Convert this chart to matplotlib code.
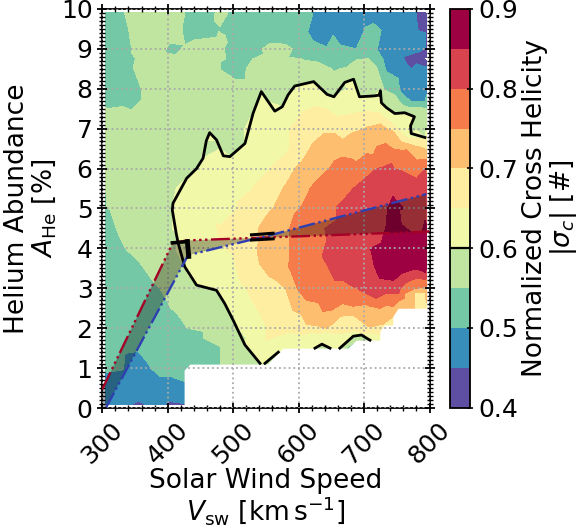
import matplotlib

matplotlib.use("Agg")
import matplotlib.pyplot as plt
import matplotlib.tri as mtri
import numpy as np
from matplotlib.ticker import MultipleLocator

speed = [305, 330, 355, 380, 405, 430, 455, 480, 505, 530, 555, 580, 605, 630, 655, 680, 705, 730, 755, 780, 795]
abundance = [9.9, 9.5, 9.0, 8.75, 8.5, 8.0, 7.5, 7.0, 6.5, 6.0, 5.5, 5.0, 4.5, 4.0, 3.5, 3.0, 2.5, 2.0, 1.75, 1.5, 1.0, 0.5, 0.1]

# median cross helicity per bin, rows follow abundance
sigma_c = [
    [.53, .545, .565, .57, .57, .54, .54, .56, .54, .535, .52, .515, .515, .49, .47, .47, .47, .47, .47, .45, .43],
    [.52, .54, .565, .552, .57, .54, .535, .548, .54, .53, .52, .515, .505, .48, .48, .47, .505, .495, .47, .452, .44],
    [.52, .535, .56, .565, .548, .56, .565, .553, .54, .535, .56, .56, .535, .51, .51, .502, .52, .48, .47, .455, .445],
    [.525, .535, .553, .565, .552, .565, .565, .555, .54, .55, .555, .553, .55, .545, .53, .545, .552, .497, .47, .44, .39],
    [.535, .535, .553, .57, .565, .565, .56, .55, .535, .56, .565, .565, .565, .56, .548, .555, .565, .505, .485, .46, .47],
    [.53, .535, .548, .575, .58, .58, .58, .575, .555, .57, .58, .585, .605, .607, .58, .607, .58, .548, .495, .48, .48],
    [.552, .552, .557, .58, .585, .59, .59, .595, .595, .597, .61, .606, .645, .655, .645, .635, .645, .605, .58, .565, .55],
    [.57, .575, .58, .585, .585, .59, .595, .597, .59, .61, .615, .625, .66, .685, .69, .69, .705, .71, .635, .59, .585],
    [.56, .58, .585, .585, .585, .59, .598, .60, .595, .615, .625, .64, .68, .72, .735, .73, .74, .755, .745, .715, .695],
    [.55, .575, .585, .59, .59, .595, .605, .62, .625, .63, .65, .68, .715, .735, .76, .77, .78, .805, .797, .775, .795],
    [.55, .57, .585, .59, .593, .615, .62, .63, .64, .65, .675, .705, .735, .765, .785, .797, .82, .84, .83, .82, .81],
    [.545, .56, .58, .59, .598, .615, .625, .635, .648, .665, .695, .715, .75, .775, .797, .82, .835, .845, .855, .835, .835],
    [.53, .56, .58, .59, .598, .62, .63, .652, .67, .69, .72, .745, .765, .79, .815, .83, .84, .845, .86, .84, .855],
    [.51, .545, .565, .585, .595, .615, .63, .645, .665, .69, .725, .745, .765, .795, .82, .835, .845, .87, .885, .885, .885],
    [.51, .525, .54, .565, .585, .605, .625, .635, .65, .675, .71, .74, .76, .78, .815, .83, .845, .87, .875, .855, .855],
    [.51, .515, .525, .545, .565, .585, .598, .61, .635, .66, .685, .70, .755, .775, .79, .795, .81, .825, .802, .75, .745],
    [.505, .51, .515, .53, .55, .565, .58, .597, .615, .645, .665, .685, .71, .74, .75, .745, .735, .745, .72, .685, .685],
    [.505, .505, .51, .52, .535, .55, .555, .58, .597, .62, .655, .665, .68, .695, .68, .68, .695, .695, .69, .68, .68],
    [.505, .505, .505, .515, .53, .545, .55, .565, .585, .61, .652, .635, .63, .615, .625, .595, .60, .63, .65, .65, .65],
    [.52, .515, .502, .515, .525, .54, .545, .55, .57, .61, .62, .605, .605, .598, .603, .52, .55, .6, .6, .6, .6],
    [.505, .502, .485, .505, .515, .53, .54, .55, .565, .57, .57, .58, .58, .58, .58, .5, .5, .55, .55, .55, .55],
    [.485, .48, .47, .475, .48, .485, .5, .5, .5, .5, .5, .5, .5, .5, .5, .5, .5, .5, .5, .5, .5],
    [.47, .46, .445, .46, .445, .45, .5, .5, .5, .5, .5, .5, .5, .5, .5, .5, .5, .5, .5, .5, .5],
]

# iso-lines as (speed, abundance) samples, one list per sigma_c value
iso_45 = [
    [(780, 9.9), (782, 9.47), (794, 9.4)],
    [(794, 9.05), (782, 8.9), (760, 8.8), (766, 8.6), (773, 8.5), (794, 8.55)],
]
iso_50 = [
    [(622, 9.9), (614, 9.43), (622, 9.2), (643, 9.05), (653, 9.35), (663, 9.1), (688, 9.0), (706, 9.5), (714, 9.64),
     (726, 9.47), (720, 8.97), (734, 8.43), (752, 8.26), (757, 7.89), (772, 7.68), (794, 7.68)],
    [(570, 9.9), (574, 9.77), (578, 9.9)],
    [(305, 0.88), (332, 0.96), (335, 1.37), (342, 1.57), (355, 1.42), (370, 1.12), (388, 0.8), (425, 0.67)],
]
iso_55 = [
    [(334, 9.9), (347, 8.55), (360, 7.97), (360, 7.72), (345, 7.47), (324, 7.54), (307, 7.5)],
    [(385, 9.7), (395, 9.64), (403, 9.14), (412, 8.85), (405, 8.68), (395, 8.93), (380, 9.4)],
    [(426, 9.9), (426, 9.1), (442, 9.24), (475, 9.3), (478, 9.43), (472, 9.7), (472, 9.9)],
    [(492, 9.9), (487, 9.35), (491, 9.18), (481, 8.68), (481, 8.47), (505, 8.22), (518, 8.24), (533, 8.76), (546, 8.87),
     (607, 8.72), (655, 8.43), (688, 8.72), (703.6, 8.76), (719, 8.55), (729, 8.05), (747, 7.84), (754, 7.68), (794, 7.5)],
    [(307, 5.0), (312, 4.96), (322, 4.46), (337, 3.96), (368, 3.4), (388, 3.0), (414, 2.37), (426, 2.1), (454, 1.92),
     (480, 1.54), (480, 1.12)],
]
iso_60 = [
    [(793, 6.78), (772, 6.88), (771, 7.07), (777, 7.3), (762, 7.4), (747, 7.38), (734, 7.53), (726.5, 7.65), (725, 7.95),
     (723, 7.84), (714, 7.82), (693, 7.8), (684, 8.24), (670.5, 8.16), (654, 7.8), (643.5, 7.86), (623, 8.18), (594, 8.07),
     (584, 7.85), (575, 7.55), (563.6, 7.44), (543, 7.93), (530.5, 7.39), (518, 6.63), (495, 6.3), (485, 6.32),
     (474.5, 6.72), (464, 6.9), (459, 6.7), (454, 6.26), (444, 6.0), (429, 5.76), (408, 5.13), (407, 4.96), (413, 4.37),
     (416, 4.13), (426, 3.54), (444, 3.08), (474.5, 2.95), (487, 2.62), (500, 2.2), (518, 1.58), (541, 1.12)],
    [(548.6, 1.12), (569, 1.4)],
    [(625, 1.5), (635.6, 1.6), (648, 1.5)],
    [(663, 1.5), (683.6, 1.8), (696, 1.83), (709, 1.7)],
]
iso_65 = [
    [(794, 6.73), (777, 6.76), (759, 6.84), (743, 7.13), (723, 7.4), (703.6, 7.43), (658, 7.3), (625, 7.55), (607, 7.43),
     (586, 6.97), (575.5, 6.3), (555, 5.97), (529.5, 5.55), (505, 5.13), (474.5, 4.62), (477, 4.37), (500, 3.87), (510, 3.2),
     (525.5, 2.8), (541, 2.38), (551.5, 1.7), (582, 1.9), (640, 1.92), (700, 1.87)],
]
iso_70 = [
    [(794, 6.47), (765, 6.63), (745, 6.93), (725, 7.12), (700, 7.0), (667, 6.72), (639, 6.88), (621, 6.63), (603, 6.13),
     (583, 5.67), (565, 5.13), (546, 4.7), (538, 3.8), (541, 3.6), (566, 3.2), (581, 2.95), (591, 2.45), (612, 2.1),
     (642, 2.0), (663, 2.3), (683, 2.33), (714, 2.05), (729, 2.1), (745, 2.3), (752, 2.5)],
    [(777, 2.5), (777, 2.9), (794, 2.9)],
]
iso_75 = [
    [(794, 6.24), (765, 6.47), (734, 6.63), (719, 6.55), (714, 6.34), (688, 6.17), (647, 6.0), (627, 5.7), (612, 5.3),
     (604, 5.05), (594, 4.87), (586, 4.3), (585, 3.54), (591, 3.3), (599, 2.96), (612, 2.7), (637, 2.42), (652, 2.46),
     (667, 2.62), (683, 2.55), (714, 2.33), (724, 2.5), (734, 2.58), (745, 2.54), (762, 2.75), (762, 2.87), (777, 3.0), (794, 3.04)],
]
iso_80 = [
    [(794, 6.0), (780, 5.75), (770, 5.84), (742, 6.13), (719, 6.0), (698, 5.7), (673, 5.3), (658, 5.05), (658, 4.7),
     (643, 4.2), (636, 3.8), (643, 3.6), (668, 3.2), (698, 2.92), (718, 2.75), (753, 2.87), (762, 3.12), (794, 3.23)],
]
iso_85 = [
    [(736, 5.0), (744, 5.3), (751, 5.0), (754, 4.96), (757, 4.6), (772, 4.4), (790, 4.4), (793, 4.7)],
    [(736, 5.0), (733.5, 4.54), (726, 4.13), (716, 3.54), (724, 3.25), (745, 3.2), (773, 3.46), (794, 3.4)],
]
iso_sets = [(0.45, iso_45), (0.50, iso_50), (0.55, iso_55), (0.60, iso_60), (0.65, iso_65),
            (0.70, iso_70), (0.75, iso_75), (0.80, iso_80), (0.85, iso_85)]

# bins without enough samples along the bottom
empty_speed = [425, 425, 434, 552, 576, 675, 688, 724, 724, 731, 744, 744, 752, 800]
empty_abundance = [0, 0.95, 1.1, 1.1, 1.5, 1.5, 1.7, 1.7, 1.92, 2.08, 2.08, 2.3, 2.5, 2.5]

# two-segment fits of the upper and lower edge of the abundance trend
upper_speed = [300, 407.5, 429, 795, 800]
upper_abundance = [0.47, 4.13, 4.2, 4.42, 4.43]
lower_speed = [306, 431, 561, 795]
lower_abundance = [0.02, 3.83, 4.35, 5.36]

levels = np.arange(0.4, 0.901, 0.05)

xs, ys = np.meshgrid(speed, abundance)
sample_x = list(xs.ravel())
sample_y = list(ys.ravel())
sample_z = list(np.array(sigma_c).ravel())
for value, lines in iso_sets:
    for line in lines:
        for px, py in line:
            sample_x.append(px)
            sample_y.append(py)
            sample_z.append(value)
sample_x = np.array(sample_x, dtype=float)
sample_y = np.array(sample_y, dtype=float)

fig = plt.figure(figsize=(5.8, 5.3), dpi=100)
ax = fig.add_axes([102.3 / 580, 1 - 408 / 530, 327.2 / 580, 399 / 530])
cax = fig.add_axes([449.5 / 580, 1 - 407.5 / 530, 20.5 / 580, 398.5 / 530])

# triangulate with both axes on a similar scale, speed spans far more units
triangles = mtri.Triangulation(sample_x / 50, sample_y).triangles
triang = mtri.Triangulation(sample_x, sample_y, triangles)
cmap = plt.get_cmap("Spectral_r", 10)
cf = ax.tricontourf(triang, sample_z, levels=levels, cmap=cmap, vmin=0.4, vmax=0.9, zorder=1)
ax.fill_between(empty_speed, empty_abundance, 0, color="white", lw=0, zorder=2)
for line in iso_60:
    ax.plot([p[0] for p in line], [p[1] for p in line], color="k", lw=2, solid_joinstyle="round", zorder=4)

band_x = upper_speed[:-1] + lower_speed[::-1] + [300]
band_y = upper_abundance[:-1] + lower_abundance[::-1] + [0]
ax.fill(band_x, band_y, color="k", alpha=0.3, lw=0, zorder=4)
ax.plot(upper_speed, upper_abundance, color="#a50026", lw=1.7, dashes=(8, 1.5, 1, 1.5, 1, 1.5, 1, 1.5), zorder=5)
ax.plot(lower_speed, lower_abundance, color="#2f3fb0", lw=1.7, dashes=(7, 1.5, 1, 1.5, 1, 1.5), zorder=5)

# knee uncertainty of each fit
ax.plot([407, 430], [4.14, 4.17], color="k", lw=2.5, zorder=6)
ax.plot([430, 432], [4.17, 3.8], color="k", lw=3.5, zorder=6)
ax.plot([528, 561], [4.34, 4.38], color="k", lw=2.2, zorder=6)
ax.plot([528, 561], [4.21, 4.24], color="k", lw=2.2, zorder=6)

ax.set_xlim(300, 800)
ax.set_ylim(0, 10)
ax.set_xticks([300, 400, 500, 600, 700, 800])
ax.xaxis.set_minor_locator(MultipleLocator(20))
ax.yaxis.set_major_locator(MultipleLocator(1))
ax.yaxis.set_minor_locator(MultipleLocator(0.1))
ax.set_axisbelow(False)
ax.grid(True, which="major", color="#a9a9a9", ls=":", lw=1.3, zorder=3)
ax.tick_params(which="major", direction="inout", length=7, width=1.3, top=True, right=True, labelsize=18)
ax.tick_params(which="minor", direction="inout", length=4, width=1.0, top=True, right=True)
plt.setp(ax.get_xticklabels(), rotation=45)
for spine in ax.spines.values():
    spine.set_linewidth(1.3)
ax.set_xlabel("Solar Wind Speed\n$V_\\mathrm{sw}$ [$\\mathrm{km\\,s^{-1}}$]", fontsize=19, labelpad=0, linespacing=1.0)
ax.set_ylabel("Helium Abundance\n$A_\\mathrm{He}$ [%]", fontsize=19, labelpad=2, linespacing=1.0)

cb = fig.colorbar(cf, cax=cax, ticks=[0.4, 0.5, 0.6, 0.7, 0.8, 0.9])
cb.ax.axhline(0.6, color="k", lw=1.6)
cb.ax.tick_params(direction="inout", length=5, width=1.2, labelsize=18)
cb.outline.set_linewidth(1.3)
cb.set_label("Normalized Cross Helicity\n$|\\sigma_c|$ [#]", fontsize=19, labelpad=3, linespacing=1.0)

fig.savefig("out.png", dpi=100)
